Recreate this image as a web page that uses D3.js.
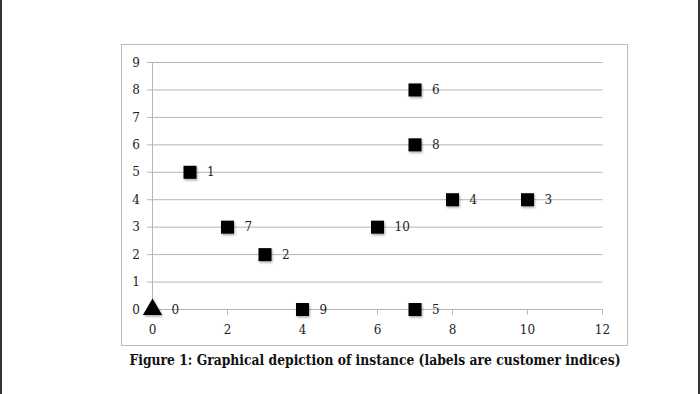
<!DOCTYPE html>
<html><head><meta charset="utf-8">
<script src="https://cdn.jsdelivr.net/npm/d3@7"></script>
<style>html,body{margin:0;padding:0;background:#fff;}</style>
</head><body>
<svg id="c" width="700" height="394"></svg>
<script>
const customers = ["0","1","2","3","4","5","6","7","8","9","10"];
const xValues = [0,1,3,10,8,7,7,2,7,4,6];
const yValues = [0,5,2,4,4,0,8,3,6,0,3];
const shapes = ["triangle","square","square","square","square","square","square","square","square","square","square"];
const xTicks = [0,2,4,6,8,10,12];
const yTicks = [0,1,2,3,4,5,6,7,8,9];
const caption = "Figure 1: Graphical depiction of instance (labels are customer indices)";

const svg = d3.select("#c");
// page borders
svg.append("line").attr("x1",1).attr("x2",1).attr("y1",0).attr("y2",394).attr("stroke","#333").attr("stroke-width",2);
svg.append("line").attr("x1",699).attr("x2",699).attr("y1",0).attr("y2",394).attr("stroke","#333").attr("stroke-width",2);
// chart frame
svg.append("rect").attr("x",121.5).attr("y",44.5).attr("width",506).attr("height",301)
  .attr("fill","none").attr("stroke","#bdbdbd").attr("stroke-width",1);

const x = d3.scaleLinear().domain([0,12]).range([152.5,602.5]);
const y = d3.scaleLinear().domain([0,9]).range([309.5,62.5]);
const font = "DejaVu Serif, Liberation Serif, serif";

// gridlines
const g = svg.append("g");
g.selectAll("line.grid").data(yTicks).join("line")
  .attr("x1",147).attr("x2",x(12)).attr("y1",d=>y(d)).attr("y2",d=>y(d))
  .attr("stroke","#b5b5b5").attr("stroke-width",1);
// y axis line
g.append("line").attr("x1",x(0)).attr("x2",x(0)).attr("y1",y(9)).attr("y2",y(0)+4).attr("stroke","#b5b5b5");
// x ticks
g.selectAll("line.xt").data(xTicks).join("line")
  .attr("x1",d=>x(d)).attr("x2",d=>x(d)).attr("y1",y(0)).attr("y2",y(0)+5).attr("stroke","#b5b5b5");
// tick labels
g.selectAll("text.yl").data(yTicks).join("text")
  .attr("x",140).attr("y",d=>y(d)).attr("dy","0.35em").attr("text-anchor","end")
  .attr("font-family",font).attr("font-size",12).attr("fill","#222").text(d=>d);
g.selectAll("text.xl").data(xTicks).join("text")
  .attr("x",d=>x(d)).attr("y",y(0)+24).attr("text-anchor","middle")
  .attr("font-family",font).attr("font-size",12).attr("fill","#222").text(d=>d);

// shadow filter
const defs = svg.append("defs");
const f = defs.append("filter").attr("id","sh").attr("x","-50%").attr("y","-50%").attr("width","200%").attr("height","200%");
f.append("feDropShadow").attr("dx",1).attr("dy",1.5).attr("stdDeviation",1.2).attr("flood-color","#000").attr("flood-opacity",0.35);

const pts = customers.map((c,i)=>({c, x:xValues[i], y:yValues[i], s:shapes[i]}));
const sq = d3.symbol().type(d3.symbolSquare).size(169);
const tri = d3.symbol().type(d3.symbolTriangle).size(160);
svg.append("g").selectAll("path").data(pts).join("path")
  .attr("transform",d=>`translate(${x(d.x)},${y(d.y)})`)
  .attr("d",d=>d.s==="triangle"?tri():sq())
  .attr("fill","#000").attr("filter","url(#sh)");
svg.append("g").selectAll("text").data(pts).join("text")
  .attr("x",d=>x(d.x)+(d.c==="0"?19:17)).attr("y",d=>y(d.y)).attr("dy","0.35em")
  .attr("font-family",font).attr("font-size",12).attr("fill","#222").text(d=>d.c);

svg.append("text").attr("x",375).attr("y",365).attr("text-anchor","middle")
  .attr("font-family",font).attr("font-weight","bold").attr("font-size",14).attr("fill","#111")
  .attr("textLength",491).attr("lengthAdjust","spacingAndGlyphs").text(caption);
</script>
</body></html>
